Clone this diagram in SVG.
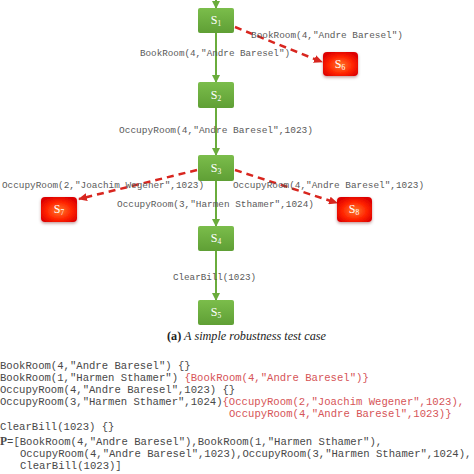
<svg xmlns="http://www.w3.org/2000/svg" width="474" height="474" viewBox="0 0 474 474">
<style>
.lbl{font-family:"Liberation Mono","DejaVu Sans Mono",monospace;font-size:9.3px;fill:#5a5a5a}
.code{font-family:"Liberation Mono","DejaVu Sans Mono",monospace;font-size:10.6px;fill:#484848}
.red{fill:#d65457}
.st{font-family:"Liberation Serif","Times New Roman",serif;font-size:12px;fill:#fff}
.sub{font-size:7.5px}
.g{stroke:#6aac3c;stroke-width:2;fill:none}
.r{stroke:#d8261f;stroke-width:2.5;fill:none;stroke-dasharray:7,5}
</style>
<defs>
<linearGradient id="gg" x1="0" y1="0" x2="0" y2="1">
<stop offset="0" stop-color="#7bbd4b"/>
<stop offset="1" stop-color="#5f9f35"/>
</linearGradient>
<radialGradient id="rg" cx="0.5" cy="0.55" r="0.6">
<stop offset="0" stop-color="#ff7a2a"/>
<stop offset="0.6" stop-color="#ff2200"/>
<stop offset="1" stop-color="#dd0000"/>
</radialGradient>
<filter id="sh" x="-30%" y="-30%" width="160%" height="170%">
<feDropShadow dx="0" dy="1.5" stdDeviation="1.8" flood-color="#600" flood-opacity="0.4"/>
</filter>
<marker id="ag" markerWidth="8" markerHeight="8" refX="7" refY="4" orient="auto" markerUnits="userSpaceOnUse">
<path d="M0,0 L8,4 L0,8 Z" fill="#6aac3c"/>
</marker>
<marker id="ar" markerWidth="9" markerHeight="8" refX="8" refY="4" orient="auto" markerUnits="userSpaceOnUse">
<path d="M0,0 L9,4 L0,8 Z" fill="#d8261f"/>
</marker>
</defs>

<g id="connectors">
<line class="g" x1="216" y1="0" x2="216" y2="8" marker-end="url(#ag)"/>
<line class="g" x1="216" y1="33" x2="216" y2="82" marker-end="url(#ag)"/>
<line class="g" x1="216" y1="108" x2="216" y2="155" marker-end="url(#ag)"/>
<line class="g" x1="216" y1="181" x2="216" y2="226" marker-end="url(#ag)"/>
<line class="g" x1="216" y1="251" x2="216" y2="300" marker-end="url(#ag)"/>
<line class="r" x1="235" y1="27" x2="322" y2="62" marker-end="url(#ar)"/>
<line class="r" x1="197" y1="170" x2="79" y2="199" marker-end="url(#ar)"/>
<line class="r" x1="235" y1="170" x2="337" y2="203" marker-end="url(#ar)"/>
</g>

<g id="labels">
<text class="lbl" x="251" y="38" textLength="152" lengthAdjust="spacingAndGlyphs">BookRoom(4,"Andre Baresel")</text>
<text class="lbl" x="140" y="56" textLength="150" lengthAdjust="spacingAndGlyphs">BookRoom(4,"Andre Baresel")</text>
<text class="lbl" x="119" y="133" textLength="194" lengthAdjust="spacingAndGlyphs">OccupyRoom(4,"Andre Baresel",1023)</text>
<text class="lbl" x="2" y="188" textLength="202" lengthAdjust="spacingAndGlyphs">OccupyRoom(2,"Joachim Wegener",1023)</text>
<text class="lbl" x="233" y="188" textLength="191" lengthAdjust="spacingAndGlyphs">OccupyRoom(4,"Andre Baresel",1023)</text>
<text class="lbl" x="117" y="207" textLength="197" lengthAdjust="spacingAndGlyphs">OccupyRoom(3,"Harmen Sthamer",1024)</text>
<text class="lbl" x="173" y="280" textLength="83" lengthAdjust="spacingAndGlyphs">ClearBill(1023)</text>
</g>

<g id="S1"><rect x="198" y="8" width="36" height="25" rx="2" fill="url(#gg)"/><text class="st" x="216" y="24" text-anchor="middle">S<tspan class="sub" dy="2">1</tspan></text></g>
<g id="S2"><rect x="198" y="82" width="36" height="26" rx="2" fill="url(#gg)"/><text class="st" x="216" y="99" text-anchor="middle">S<tspan class="sub" dy="2">2</tspan></text></g>
<g id="S3"><rect x="198" y="155" width="36" height="26" rx="2" fill="url(#gg)"/><text class="st" x="216" y="172" text-anchor="middle">S<tspan class="sub" dy="2">3</tspan></text></g>
<g id="S4"><rect x="198" y="226" width="36" height="25" rx="2" fill="url(#gg)"/><text class="st" x="216" y="242" text-anchor="middle">S<tspan class="sub" dy="2">4</tspan></text></g>
<g id="S5"><rect x="198" y="300" width="36" height="25" rx="2" fill="url(#gg)"/><text class="st" x="216" y="316" text-anchor="middle">S<tspan class="sub" dy="2">5</tspan></text></g>
<g id="S6"><rect x="323" y="52" width="35" height="24" rx="4" fill="url(#rg)" filter="url(#sh)"/><text class="st" x="340" y="68" text-anchor="middle">S<tspan class="sub" dy="2">6</tspan></text></g>
<g id="S7"><rect x="41" y="197" width="36" height="25" rx="4" fill="url(#rg)" filter="url(#sh)"/><text class="st" x="59" y="213" text-anchor="middle">S<tspan class="sub" dy="2">7</tspan></text></g>
<g id="S8"><rect x="337" y="197" width="35" height="25" rx="4" fill="url(#rg)" filter="url(#sh)"/><text class="st" x="354" y="213" text-anchor="middle">S<tspan class="sub" dy="2">8</tspan></text></g>

<text x="167" y="340" font-family="Liberation Serif,serif" font-size="12.5" fill="#222" textLength="159" lengthAdjust="spacingAndGlyphs"><tspan font-weight="bold">(a)</tspan><tspan font-style="italic"> A simple robustness test case</tspan></text>

<g id="code">
<text class="code" x="0" y="368.5">BookRoom(4,"Andre Baresel") {}</text>
<text class="code" x="0" y="380.5">BookRoom(1,"Harmen Sthamer") <tspan class="red">{BookRoom(4,"Andre Baresel")}</tspan></text>
<text class="code" x="0" y="392.5">OccupyRoom(4,"Andre Baresel",1023) {}</text>
<text class="code" x="0" y="404.5">OccupyRoom(3,"Harmen Sthamer",1024)<tspan class="red">{OccupyRoom(2,"Joachim Wegener",1023),</tspan></text>
<text class="code red" x="229" y="417">OccupyRoom(4,"Andre Baresel",1023)}</text>
<text class="code" x="0" y="429.5">ClearBill(1023) {}</text>
<text class="code" x="0" y="444.5"><tspan font-family="Liberation Serif,serif" font-weight="bold" font-size="11.5">P</tspan>=[BookRoom(4,"Andre Baresel"),BookRoom(1,"Harmen Sthamer"),</text>
<text class="code" x="20" y="456.5">OccupyRoom(4,"Andre Baresel",1023),OccupyRoom(3,"Harmen Sthamer",1024),</text>
<text class="code" x="20" y="469">ClearBill(1023)]</text>
</g>
</svg>
